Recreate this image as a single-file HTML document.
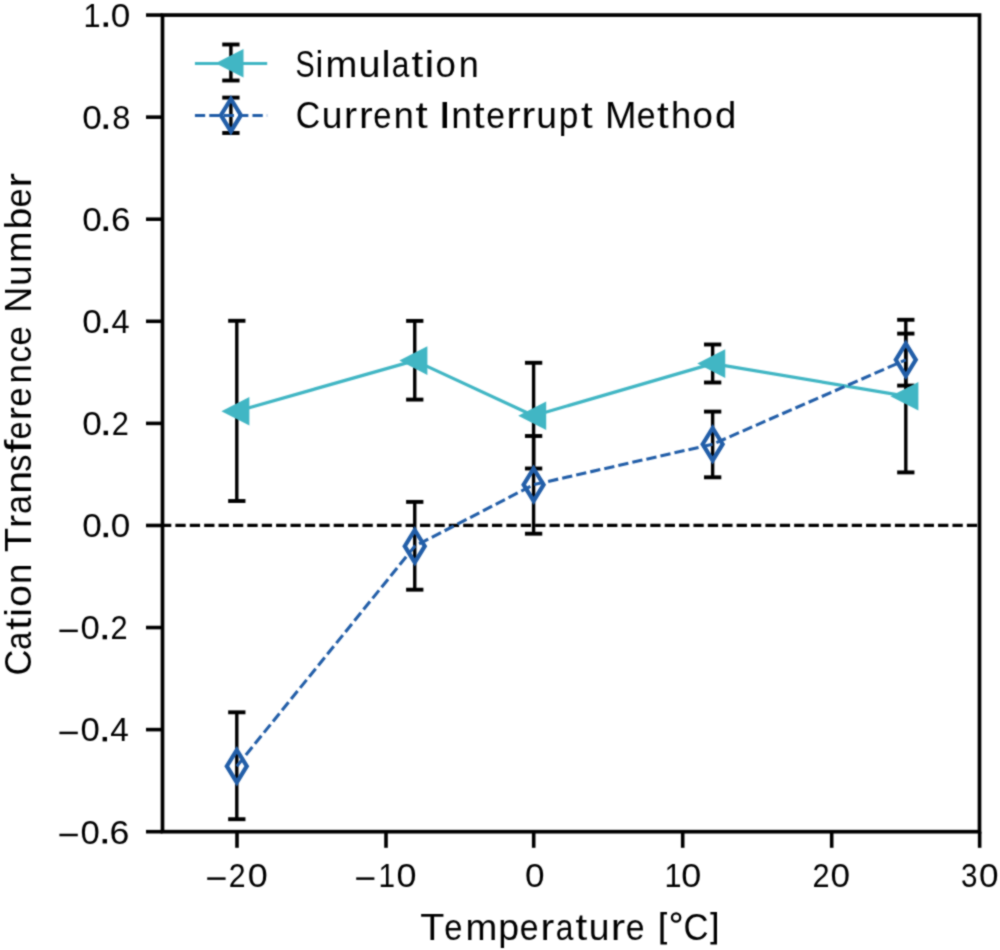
<!DOCTYPE html>
<html><head><meta charset="utf-8"><style>
html,body{margin:0;padding:0;background:#fff;width:1000px;height:950px;overflow:hidden}
svg{display:block;will-change:transform}
</style></head><body>
<svg width="1000" height="950" viewBox="0 0 1000 950">
<defs><filter id="soft" color-interpolation-filters="sRGB" filterUnits="userSpaceOnUse" x="0" y="0" width="1000" height="950"><feConvolveMatrix order="3" kernelMatrix="1 2 1 2 8 2 1 2 1" divisor="20" edgeMode="none" preserveAlpha="false"/></filter></defs>
<rect width="1000" height="950" fill="#fff"/>
<g filter="url(#soft)">
<line x1="162.5" y1="525.35" x2="979.5" y2="525.35" stroke="#000000" stroke-width="3.1" stroke-dasharray="10.3 4.09" stroke-dashoffset="1.5"/>
<line x1="236.80" y1="320.80" x2="236.80" y2="501.00" stroke="#000000" stroke-width="3.4"/>
<line x1="228.15" y1="320.80" x2="245.45" y2="320.80" stroke="#000000" stroke-width="3.9"/>
<line x1="228.15" y1="501.00" x2="245.45" y2="501.00" stroke="#000000" stroke-width="3.9"/>
<line x1="414.75" y1="320.90" x2="414.75" y2="399.60" stroke="#000000" stroke-width="3.4"/>
<line x1="406.10" y1="320.90" x2="423.40" y2="320.90" stroke="#000000" stroke-width="3.9"/>
<line x1="406.10" y1="399.60" x2="423.40" y2="399.60" stroke="#000000" stroke-width="3.9"/>
<line x1="533.60" y1="362.80" x2="533.60" y2="468.50" stroke="#000000" stroke-width="3.4"/>
<line x1="524.95" y1="362.80" x2="542.25" y2="362.80" stroke="#000000" stroke-width="3.9"/>
<line x1="524.95" y1="468.50" x2="542.25" y2="468.50" stroke="#000000" stroke-width="3.9"/>
<line x1="712.65" y1="344.50" x2="712.65" y2="382.50" stroke="#000000" stroke-width="3.4"/>
<line x1="704.00" y1="344.50" x2="721.30" y2="344.50" stroke="#000000" stroke-width="3.9"/>
<line x1="704.00" y1="382.50" x2="721.30" y2="382.50" stroke="#000000" stroke-width="3.9"/>
<line x1="905.80" y1="319.80" x2="905.80" y2="472.40" stroke="#000000" stroke-width="3.4"/>
<line x1="897.15" y1="319.80" x2="914.45" y2="319.80" stroke="#000000" stroke-width="3.9"/>
<line x1="897.15" y1="472.40" x2="914.45" y2="472.40" stroke="#000000" stroke-width="3.9"/>
<line x1="236.80" y1="712.30" x2="236.80" y2="819.20" stroke="#000000" stroke-width="3.4"/>
<line x1="228.15" y1="712.30" x2="245.45" y2="712.30" stroke="#000000" stroke-width="3.9"/>
<line x1="228.15" y1="819.20" x2="245.45" y2="819.20" stroke="#000000" stroke-width="3.9"/>
<line x1="414.75" y1="501.90" x2="414.75" y2="589.70" stroke="#000000" stroke-width="3.4"/>
<line x1="406.10" y1="501.90" x2="423.40" y2="501.90" stroke="#000000" stroke-width="3.9"/>
<line x1="406.10" y1="589.70" x2="423.40" y2="589.70" stroke="#000000" stroke-width="3.9"/>
<line x1="533.60" y1="436.00" x2="533.60" y2="533.70" stroke="#000000" stroke-width="3.4"/>
<line x1="524.95" y1="436.00" x2="542.25" y2="436.00" stroke="#000000" stroke-width="3.9"/>
<line x1="524.95" y1="533.70" x2="542.25" y2="533.70" stroke="#000000" stroke-width="3.9"/>
<line x1="712.65" y1="411.60" x2="712.65" y2="477.30" stroke="#000000" stroke-width="3.4"/>
<line x1="704.00" y1="411.60" x2="721.30" y2="411.60" stroke="#000000" stroke-width="3.9"/>
<line x1="704.00" y1="477.30" x2="721.30" y2="477.30" stroke="#000000" stroke-width="3.9"/>
<line x1="905.80" y1="333.60" x2="905.80" y2="385.60" stroke="#000000" stroke-width="3.4"/>
<line x1="897.15" y1="333.60" x2="914.45" y2="333.60" stroke="#000000" stroke-width="3.9"/>
<line x1="897.15" y1="385.60" x2="914.45" y2="385.60" stroke="#000000" stroke-width="3.9"/>
<polyline points="236.80,411.20 414.75,360.60 533.60,415.70 712.65,363.60 905.80,396.20" fill="none" stroke="#41b6c4" stroke-width="3.2" stroke-linejoin="round"/>
<polyline points="236.80,766.20 414.75,546.20 533.60,484.70 712.65,444.20 905.80,359.80" fill="none" stroke="#225ea8" stroke-width="3.1" stroke-dasharray="10.3 4.09" stroke-linejoin="round"/>
<polygon points="221.40,411.20 249.40,396.90 249.40,425.50" fill="#41b6c4"/>
<polygon points="399.35,360.60 427.35,346.30 427.35,374.90" fill="#41b6c4"/>
<polygon points="518.20,415.70 546.20,401.40 546.20,430.00" fill="#41b6c4"/>
<polygon points="697.25,363.60 725.25,349.30 725.25,377.90" fill="#41b6c4"/>
<polygon points="890.40,396.20 918.40,381.90 918.40,410.50" fill="#41b6c4"/>
<polygon points="236.80,750.00 246.80,766.20 236.80,782.40 226.80,766.20" fill="none" stroke="#225ea8" stroke-width="4.2" stroke-linejoin="miter" stroke-miterlimit="10"/>
<polygon points="414.75,530.00 424.75,546.20 414.75,562.40 404.75,546.20" fill="none" stroke="#225ea8" stroke-width="4.2" stroke-linejoin="miter" stroke-miterlimit="10"/>
<polygon points="533.60,468.50 543.60,484.70 533.60,500.90 523.60,484.70" fill="none" stroke="#225ea8" stroke-width="4.2" stroke-linejoin="miter" stroke-miterlimit="10"/>
<polygon points="712.65,428.00 722.65,444.20 712.65,460.40 702.65,444.20" fill="none" stroke="#225ea8" stroke-width="4.2" stroke-linejoin="miter" stroke-miterlimit="10"/>
<polygon points="905.80,343.60 915.80,359.80 905.80,376.00 895.80,359.80" fill="none" stroke="#225ea8" stroke-width="4.2" stroke-linejoin="miter" stroke-miterlimit="10"/>
<rect x="162.5" y="15.05" width="817.00" height="816.65" fill="none" stroke="#000000" stroke-width="3.7" stroke-linejoin="miter"/>
<line x1="146" y1="15.05" x2="162.5" y2="15.05" stroke="#000000" stroke-width="3.6"/>
<line x1="146" y1="117.13" x2="162.5" y2="117.13" stroke="#000000" stroke-width="3.6"/>
<line x1="146" y1="219.21" x2="162.5" y2="219.21" stroke="#000000" stroke-width="3.6"/>
<line x1="146" y1="321.29" x2="162.5" y2="321.29" stroke="#000000" stroke-width="3.6"/>
<line x1="146" y1="423.38" x2="162.5" y2="423.38" stroke="#000000" stroke-width="3.6"/>
<line x1="146" y1="525.46" x2="162.5" y2="525.46" stroke="#000000" stroke-width="3.6"/>
<line x1="146" y1="627.54" x2="162.5" y2="627.54" stroke="#000000" stroke-width="3.6"/>
<line x1="146" y1="729.62" x2="162.5" y2="729.62" stroke="#000000" stroke-width="3.6"/>
<line x1="146" y1="831.70" x2="162.5" y2="831.70" stroke="#000000" stroke-width="3.6"/>
<line x1="237.00" y1="831.7" x2="237.00" y2="847.8" stroke="#000000" stroke-width="3.6"/>
<line x1="386.00" y1="831.7" x2="386.00" y2="847.8" stroke="#000000" stroke-width="3.6"/>
<line x1="533.70" y1="831.7" x2="533.70" y2="847.8" stroke="#000000" stroke-width="3.6"/>
<line x1="682.70" y1="831.7" x2="682.70" y2="847.8" stroke="#000000" stroke-width="3.6"/>
<line x1="831.70" y1="831.7" x2="831.70" y2="847.8" stroke="#000000" stroke-width="3.6"/>
<line x1="979.65" y1="831.7" x2="979.65" y2="847.8" stroke="#000000" stroke-width="3.6"/>
<text x="83.43" y="26.85" font-family="Liberation Sans, sans-serif" font-size="34" textLength="17.078" lengthAdjust="spacingAndGlyphs">1</text>
<rect x="103.60" y="22.40" width="4.4" height="4.4" fill="#000000"/>
<text x="110.78" y="26.85" font-family="Liberation Sans, sans-serif" font-size="34" textLength="19.562" lengthAdjust="spacingAndGlyphs">0</text>
<text x="82.38" y="128.93" font-family="Liberation Sans, sans-serif" font-size="34" textLength="19.562" lengthAdjust="spacingAndGlyphs">0</text>
<rect x="103.60" y="124.48" width="4.4" height="4.4" fill="#000000"/>
<text x="112.36" y="128.93" font-family="Liberation Sans, sans-serif" font-size="34" textLength="18.117" lengthAdjust="spacingAndGlyphs">8</text>
<text x="82.38" y="231.01" font-family="Liberation Sans, sans-serif" font-size="34" textLength="19.562" lengthAdjust="spacingAndGlyphs">0</text>
<rect x="103.60" y="226.56" width="4.4" height="4.4" fill="#000000"/>
<text x="110.90" y="231.01" font-family="Liberation Sans, sans-serif" font-size="34" textLength="19.497" lengthAdjust="spacingAndGlyphs">6</text>
<text x="82.38" y="333.09" font-family="Liberation Sans, sans-serif" font-size="34" textLength="19.562" lengthAdjust="spacingAndGlyphs">0</text>
<rect x="103.60" y="328.64" width="4.4" height="4.4" fill="#000000"/>
<text x="111.48" y="333.09" font-family="Liberation Sans, sans-serif" font-size="34" textLength="18.121" lengthAdjust="spacingAndGlyphs">4</text>
<text x="82.38" y="435.18" font-family="Liberation Sans, sans-serif" font-size="34" textLength="19.562" lengthAdjust="spacingAndGlyphs">0</text>
<rect x="103.60" y="430.73" width="4.4" height="4.4" fill="#000000"/>
<text x="111.82" y="435.18" font-family="Liberation Sans, sans-serif" font-size="34" textLength="17.091" lengthAdjust="spacingAndGlyphs">2</text>
<text x="82.38" y="537.26" font-family="Liberation Sans, sans-serif" font-size="34" textLength="19.562" lengthAdjust="spacingAndGlyphs">0</text>
<rect x="103.60" y="532.81" width="4.4" height="4.4" fill="#000000"/>
<text x="110.78" y="537.26" font-family="Liberation Sans, sans-serif" font-size="34" textLength="19.562" lengthAdjust="spacingAndGlyphs">0</text>
<rect x="59.40" y="629.59" width="18.40" height="2.5" fill="#000000"/>
<text x="80.40" y="639.34" font-family="Liberation Sans, sans-serif" font-size="34" textLength="19.329" lengthAdjust="spacingAndGlyphs">0</text>
<rect x="102.60" y="634.89" width="4.4" height="4.4" fill="#000000"/>
<text x="110.62" y="639.34" font-family="Liberation Sans, sans-serif" font-size="34" textLength="17.091" lengthAdjust="spacingAndGlyphs">2</text>
<rect x="59.40" y="731.67" width="18.40" height="2.5" fill="#000000"/>
<text x="80.40" y="741.42" font-family="Liberation Sans, sans-serif" font-size="34" textLength="19.329" lengthAdjust="spacingAndGlyphs">0</text>
<rect x="102.60" y="736.97" width="4.4" height="4.4" fill="#000000"/>
<text x="110.26" y="741.42" font-family="Liberation Sans, sans-serif" font-size="34" textLength="18.563" lengthAdjust="spacingAndGlyphs">4</text>
<rect x="59.40" y="833.75" width="18.40" height="2.5" fill="#000000"/>
<text x="80.40" y="843.50" font-family="Liberation Sans, sans-serif" font-size="34" textLength="19.329" lengthAdjust="spacingAndGlyphs">0</text>
<rect x="102.60" y="839.05" width="4.4" height="4.4" fill="#000000"/>
<text x="109.56" y="843.50" font-family="Liberation Sans, sans-serif" font-size="34" textLength="19.860" lengthAdjust="spacingAndGlyphs">6</text>
<rect x="207.20" y="877.35" width="18.40" height="2.5" fill="#000000"/>
<text x="228.64" y="887.10" font-family="Liberation Sans, sans-serif" font-size="34" textLength="16.847" lengthAdjust="spacingAndGlyphs">2</text>
<text x="247.74" y="887.10" font-family="Liberation Sans, sans-serif" font-size="34" textLength="20.028" lengthAdjust="spacingAndGlyphs">0</text>
<rect x="356.20" y="877.35" width="18.20" height="2.5" fill="#000000"/>
<text x="378.50" y="887.10" font-family="Liberation Sans, sans-serif" font-size="34" textLength="16.561" lengthAdjust="spacingAndGlyphs">1</text>
<text x="396.54" y="887.10" font-family="Liberation Sans, sans-serif" font-size="34" textLength="20.028" lengthAdjust="spacingAndGlyphs">0</text>
<text x="524.98" y="887.10" font-family="Liberation Sans, sans-serif" font-size="34" textLength="19.562" lengthAdjust="spacingAndGlyphs">0</text>
<text x="664.43" y="887.10" font-family="Liberation Sans, sans-serif" font-size="34" textLength="17.078" lengthAdjust="spacingAndGlyphs">1</text>
<text x="681.34" y="887.10" font-family="Liberation Sans, sans-serif" font-size="34" textLength="20.028" lengthAdjust="spacingAndGlyphs">0</text>
<text x="812.42" y="887.10" font-family="Liberation Sans, sans-serif" font-size="34" textLength="17.091" lengthAdjust="spacingAndGlyphs">2</text>
<text x="830.58" y="887.10" font-family="Liberation Sans, sans-serif" font-size="34" textLength="19.562" lengthAdjust="spacingAndGlyphs">0</text>
<text x="960.91" y="887.10" font-family="Liberation Sans, sans-serif" font-size="34" textLength="16.428" lengthAdjust="spacingAndGlyphs">3</text>
<text x="978.98" y="887.10" font-family="Liberation Sans, sans-serif" font-size="34" textLength="19.562" lengthAdjust="spacingAndGlyphs">0</text>
<text x="420.15" y="939.80" font-family="Liberation Sans, sans-serif" font-size="36.5" textLength="24.108" lengthAdjust="spacingAndGlyphs">T</text>
<text x="444.26" y="939.80" font-family="Liberation Sans, sans-serif" font-size="36.5" textLength="18.148" lengthAdjust="spacingAndGlyphs">e</text>
<text x="465.62" y="939.80" font-family="Liberation Sans, sans-serif" font-size="36.5" textLength="31.800" lengthAdjust="spacingAndGlyphs">m</text>
<text x="498.16" y="939.80" font-family="Liberation Sans, sans-serif" font-size="36.5" textLength="20.840" lengthAdjust="spacingAndGlyphs">p</text>
<text x="519.72" y="939.80" font-family="Liberation Sans, sans-serif" font-size="36.5" textLength="18.741" lengthAdjust="spacingAndGlyphs">e</text>
<text x="540.42" y="939.80" font-family="Liberation Sans, sans-serif" font-size="36.5" textLength="13.722" lengthAdjust="spacingAndGlyphs">r</text>
<text x="555.80" y="939.80" font-family="Liberation Sans, sans-serif" font-size="36.5" textLength="17.658" lengthAdjust="spacingAndGlyphs">a</text>
<text x="575.52" y="939.80" font-family="Liberation Sans, sans-serif" font-size="36.5" textLength="11.700" lengthAdjust="spacingAndGlyphs">t</text>
<text x="588.68" y="939.80" font-family="Liberation Sans, sans-serif" font-size="36.5" textLength="20.706" lengthAdjust="spacingAndGlyphs">u</text>
<text x="610.79" y="939.80" font-family="Liberation Sans, sans-serif" font-size="36.5" textLength="14.388" lengthAdjust="spacingAndGlyphs">r</text>
<text x="625.72" y="939.80" font-family="Liberation Sans, sans-serif" font-size="36.5" textLength="18.741" lengthAdjust="spacingAndGlyphs">e</text>
<text x="683.52" y="939.80" font-family="Liberation Sans, sans-serif" font-size="36.5" textLength="24.984" lengthAdjust="spacingAndGlyphs">C</text>
<path d="M667.0 911.9 H660.4 V944.6 H667.0 V942.0 H663.6999999999999 V914.5 H667.0 Z" fill="#000000"/>
<path d="M710.4 911.9 H717.0 V944.6 H710.4 V942.0 H713.7 V914.5 H710.4 Z" fill="#000000"/>
<circle cx="676.1" cy="917.5" r="4.15" fill="none" stroke="#000000" stroke-width="2.3"/>
<text x="-675.43" y="31.00" font-family="Liberation Sans, sans-serif" font-size="36.5" textLength="25.786" lengthAdjust="spacingAndGlyphs" transform="rotate(-90)">C</text>
<text x="-649.63" y="31.00" font-family="Liberation Sans, sans-serif" font-size="36.5" textLength="17.983" lengthAdjust="spacingAndGlyphs" transform="rotate(-90)">a</text>
<text x="-630.01" y="31.00" font-family="Liberation Sans, sans-serif" font-size="36.5" textLength="12.350" lengthAdjust="spacingAndGlyphs" transform="rotate(-90)">t</text>
<text x="-616.90" y="31.00" font-family="Liberation Sans, sans-serif" font-size="36.5" textLength="9.083" lengthAdjust="spacingAndGlyphs" transform="rotate(-90)">i</text>
<text x="-606.79" y="31.00" font-family="Liberation Sans, sans-serif" font-size="36.5" textLength="21.549" lengthAdjust="spacingAndGlyphs" transform="rotate(-90)">o</text>
<text x="-583.88" y="31.00" font-family="Liberation Sans, sans-serif" font-size="36.5" textLength="20.312" lengthAdjust="spacingAndGlyphs" transform="rotate(-90)">n</text>
<text x="-552.15" y="31.00" font-family="Liberation Sans, sans-serif" font-size="36.5" textLength="24.324" lengthAdjust="spacingAndGlyphs" transform="rotate(-90)">T</text>
<text x="-527.98" y="31.00" font-family="Liberation Sans, sans-serif" font-size="36.5" textLength="13.189" lengthAdjust="spacingAndGlyphs" transform="rotate(-90)">r</text>
<text x="-514.09" y="31.00" font-family="Liberation Sans, sans-serif" font-size="36.5" textLength="18.850" lengthAdjust="spacingAndGlyphs" transform="rotate(-90)">a</text>
<text x="-493.68" y="31.00" font-family="Liberation Sans, sans-serif" font-size="36.5" textLength="22.933" lengthAdjust="spacingAndGlyphs" transform="rotate(-90)">n</text>
<text x="-471.74" y="31.00" font-family="Liberation Sans, sans-serif" font-size="36.5" textLength="17.129" lengthAdjust="spacingAndGlyphs" transform="rotate(-90)">s</text>
<text x="-453.17" y="31.00" font-family="Liberation Sans, sans-serif" font-size="36.5" textLength="13.646" lengthAdjust="spacingAndGlyphs" transform="rotate(-90)">f</text>
<text x="-439.31" y="31.00" font-family="Liberation Sans, sans-serif" font-size="36.5" textLength="17.792" lengthAdjust="spacingAndGlyphs" transform="rotate(-90)">e</text>
<text x="-420.38" y="31.00" font-family="Liberation Sans, sans-serif" font-size="36.5" textLength="13.189" lengthAdjust="spacingAndGlyphs" transform="rotate(-90)">r</text>
<text x="-406.63" y="31.00" font-family="Liberation Sans, sans-serif" font-size="36.5" textLength="19.334" lengthAdjust="spacingAndGlyphs" transform="rotate(-90)">e</text>
<text x="-383.57" y="31.00" font-family="Liberation Sans, sans-serif" font-size="36.5" textLength="19.395" lengthAdjust="spacingAndGlyphs" transform="rotate(-90)">n</text>
<text x="-362.46" y="31.00" font-family="Liberation Sans, sans-serif" font-size="36.5" textLength="16.570" lengthAdjust="spacingAndGlyphs" transform="rotate(-90)">c</text>
<text x="-345.75" y="31.00" font-family="Liberation Sans, sans-serif" font-size="36.5" textLength="19.690" lengthAdjust="spacingAndGlyphs" transform="rotate(-90)">e</text>
<text x="-312.84" y="31.00" font-family="Liberation Sans, sans-serif" font-size="36.5" textLength="25.874" lengthAdjust="spacingAndGlyphs" transform="rotate(-90)">N</text>
<text x="-285.66" y="31.00" font-family="Liberation Sans, sans-serif" font-size="36.5" textLength="20.181" lengthAdjust="spacingAndGlyphs" transform="rotate(-90)">u</text>
<text x="-262.84" y="31.00" font-family="Liberation Sans, sans-serif" font-size="36.5" textLength="31.207" lengthAdjust="spacingAndGlyphs" transform="rotate(-90)">m</text>
<text x="-229.55" y="31.00" font-family="Liberation Sans, sans-serif" font-size="36.5" textLength="21.832" lengthAdjust="spacingAndGlyphs" transform="rotate(-90)">b</text>
<text x="-207.61" y="31.00" font-family="Liberation Sans, sans-serif" font-size="36.5" textLength="19.097" lengthAdjust="spacingAndGlyphs" transform="rotate(-90)">e</text>
<text x="-187.41" y="31.00" font-family="Liberation Sans, sans-serif" font-size="36.5" textLength="14.388" lengthAdjust="spacingAndGlyphs" transform="rotate(-90)">r</text>
<line x1="230.90" y1="44.50" x2="230.90" y2="80.50" stroke="#000000" stroke-width="3.4"/>
<line x1="222.25" y1="44.50" x2="239.55" y2="44.50" stroke="#000000" stroke-width="3.9"/>
<line x1="222.25" y1="80.50" x2="239.55" y2="80.50" stroke="#000000" stroke-width="3.9"/>
<line x1="194.9" y1="63.5" x2="267.2" y2="63.5" stroke="#41b6c4" stroke-width="3.2"/>
<polygon points="215.50,63.30 243.50,49.00 243.50,77.60" fill="#41b6c4"/>
<line x1="230.90" y1="97.60" x2="230.90" y2="133.00" stroke="#000000" stroke-width="3.4"/>
<line x1="222.25" y1="97.60" x2="239.55" y2="97.60" stroke="#000000" stroke-width="3.9"/>
<line x1="222.25" y1="133.00" x2="239.55" y2="133.00" stroke="#000000" stroke-width="3.9"/>
<line x1="194.9" y1="115.5" x2="267.2" y2="115.5" stroke="#225ea8" stroke-width="3.1" stroke-dasharray="10.3 4.09"/>
<polygon points="230.90,99.00 240.90,115.20 230.90,131.40 220.90,115.20" fill="none" stroke="#225ea8" stroke-width="4.2" stroke-linejoin="miter" stroke-miterlimit="10"/>
<text x="295.62" y="76.80" font-family="Liberation Sans, sans-serif" font-size="36.5" textLength="19.140" lengthAdjust="spacingAndGlyphs">S</text>
<text x="315.50" y="76.80" font-family="Liberation Sans, sans-serif" font-size="36.5" textLength="7.785" lengthAdjust="spacingAndGlyphs">i</text>
<text x="325.62" y="76.80" font-family="Liberation Sans, sans-serif" font-size="36.5" textLength="31.800" lengthAdjust="spacingAndGlyphs">m</text>
<text x="358.53" y="76.80" font-family="Liberation Sans, sans-serif" font-size="36.5" textLength="22.016" lengthAdjust="spacingAndGlyphs">u</text>
<text x="381.50" y="76.80" font-family="Liberation Sans, sans-serif" font-size="36.5" textLength="9.082" lengthAdjust="spacingAndGlyphs">l</text>
<text x="391.80" y="76.80" font-family="Liberation Sans, sans-serif" font-size="36.5" textLength="17.658" lengthAdjust="spacingAndGlyphs">a</text>
<text x="411.52" y="76.80" font-family="Liberation Sans, sans-serif" font-size="36.5" textLength="11.700" lengthAdjust="spacingAndGlyphs">t</text>
<text x="424.56" y="76.80" font-family="Liberation Sans, sans-serif" font-size="36.5" textLength="9.861" lengthAdjust="spacingAndGlyphs">i</text>
<text x="435.60" y="76.80" font-family="Liberation Sans, sans-serif" font-size="36.5" textLength="20.371" lengthAdjust="spacingAndGlyphs">o</text>
<text x="458.76" y="76.80" font-family="Liberation Sans, sans-serif" font-size="36.5" textLength="20.050" lengthAdjust="spacingAndGlyphs">n</text>
<text x="295.86" y="128.00" font-family="Liberation Sans, sans-serif" font-size="36.5" textLength="24.411" lengthAdjust="spacingAndGlyphs">C</text>
<text x="321.68" y="128.00" font-family="Liberation Sans, sans-serif" font-size="36.5" textLength="20.706" lengthAdjust="spacingAndGlyphs">u</text>
<text x="344.05" y="128.00" font-family="Liberation Sans, sans-serif" font-size="36.5" textLength="13.055" lengthAdjust="spacingAndGlyphs">r</text>
<text x="358.92" y="128.00" font-family="Liberation Sans, sans-serif" font-size="36.5" textLength="13.722" lengthAdjust="spacingAndGlyphs">r</text>
<text x="373.26" y="128.00" font-family="Liberation Sans, sans-serif" font-size="36.5" textLength="18.148" lengthAdjust="spacingAndGlyphs">e</text>
<text x="393.76" y="128.00" font-family="Liberation Sans, sans-serif" font-size="36.5" textLength="20.050" lengthAdjust="spacingAndGlyphs">n</text>
<text x="415.50" y="128.00" font-family="Liberation Sans, sans-serif" font-size="36.5" textLength="12.242" lengthAdjust="spacingAndGlyphs">t</text>
<text x="438.10" y="128.00" font-family="Liberation Sans, sans-serif" font-size="36.5" textLength="13.542" lengthAdjust="spacingAndGlyphs">I</text>
<text x="451.18" y="128.00" font-family="Liberation Sans, sans-serif" font-size="36.5" textLength="20.706" lengthAdjust="spacingAndGlyphs">n</text>
<text x="473.02" y="128.00" font-family="Liberation Sans, sans-serif" font-size="36.5" textLength="11.700" lengthAdjust="spacingAndGlyphs">t</text>
<text x="486.22" y="128.00" font-family="Liberation Sans, sans-serif" font-size="36.5" textLength="18.741" lengthAdjust="spacingAndGlyphs">e</text>
<text x="506.29" y="128.00" font-family="Liberation Sans, sans-serif" font-size="36.5" textLength="14.388" lengthAdjust="spacingAndGlyphs">r</text>
<text x="521.42" y="128.00" font-family="Liberation Sans, sans-serif" font-size="36.5" textLength="13.722" lengthAdjust="spacingAndGlyphs">r</text>
<text x="536.18" y="128.00" font-family="Liberation Sans, sans-serif" font-size="36.5" textLength="20.706" lengthAdjust="spacingAndGlyphs">u</text>
<text x="558.81" y="128.00" font-family="Liberation Sans, sans-serif" font-size="36.5" textLength="19.599" lengthAdjust="spacingAndGlyphs">p</text>
<text x="581.02" y="128.00" font-family="Liberation Sans, sans-serif" font-size="36.5" textLength="11.700" lengthAdjust="spacingAndGlyphs">t</text>
<text x="604.99" y="128.00" font-family="Liberation Sans, sans-serif" font-size="36.5" textLength="31.560" lengthAdjust="spacingAndGlyphs">M</text>
<text x="636.72" y="128.00" font-family="Liberation Sans, sans-serif" font-size="36.5" textLength="18.741" lengthAdjust="spacingAndGlyphs">e</text>
<text x="657.02" y="128.00" font-family="Liberation Sans, sans-serif" font-size="36.5" textLength="11.700" lengthAdjust="spacingAndGlyphs">t</text>
<text x="671.11" y="128.00" font-family="Liberation Sans, sans-serif" font-size="36.5" textLength="20.213" lengthAdjust="spacingAndGlyphs">h</text>
<text x="692.60" y="128.00" font-family="Liberation Sans, sans-serif" font-size="36.5" textLength="20.371" lengthAdjust="spacingAndGlyphs">o</text>
<text x="715.03" y="128.00" font-family="Liberation Sans, sans-serif" font-size="36.5" textLength="21.297" lengthAdjust="spacingAndGlyphs">d</text>
</g>
</svg>
</body></html>
